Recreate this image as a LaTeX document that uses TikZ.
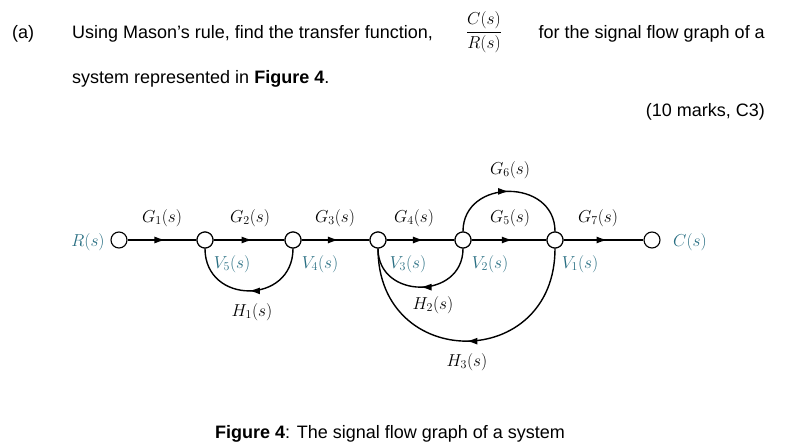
\documentclass[tikz,border=0pt]{standalone}
\usepackage{fontspec}
\newfontfamily\sansf{Liberation Sans}
\usetikzlibrary{decorations.markings,arrows.meta}
\definecolor{teal2}{RGB}{40,110,130}
\begin{document}
\begin{tikzpicture}[x=1pt,y=-1pt,
  nd/.style={circle,draw,line width=1.1pt,minimum size=16pt,inner sep=0pt,fill=white},
  br/.style={line width=1.4pt,postaction={decorate},decoration={markings,mark=at position 0.55 with {\arrow{Latex[length=11pt,width=7pt]}}}},
  lp/.style={line width=1.4pt,postaction={decorate},decoration={markings,mark=at position 0.5 with {\arrow{Latex[length=11pt,width=7pt]}}}},
  lb/.style={font=\fontsize{18}{21}\selectfont},
  vl/.style={lb,text=teal2},
  tx/.style={font=\sansf\fontsize{18}{21}\selectfont,anchor=base west,inner sep=0pt}]
\useasboundingbox (0,0) rectangle (806,447);
% text
\node[tx] (a) at (12,38) {(a)};
\node[tx] (t1) at (72,38) {Using Mason’s rule, find the transfer function,};
\node[lb,font=\fontsize{16}{19}\selectfont] (fr) at (484,32) {$\displaystyle\frac{C(s)}{R(s)}$};
\node[tx,anchor=base east] (t2) at (765,38) {for the signal flow graph of a};
\node[tx] (t3) at (72,83) {system represented in \textbf{Figure 4}.};
\node[tx,anchor=base east] (t4) at (765,116) {(10 marks, C3)};
\node[tx,anchor=base] (cap) at (390,438) {\textbf{Figure 4}: The signal flow graph of a system};
% nodes
\node[nd] (R) at (119,240) {};
\node[nd] (V5) at (205,240) {};
\node[nd] (V4) at (293,240) {};
\node[nd] (V3) at (378,240) {};
\node[nd] (V2) at (463,240) {};
\node[nd] (V1) at (555,240) {};
\node[nd] (C) at (652,240) {};
% branches
\draw[br] (R) -- (V5);
\draw[br] (V5) -- (V4);
\draw[br] (V4) -- (V3);
\draw[br] (V3) -- (V2);
\draw[br] (V2) -- (V1);
\draw[br] (V1) -- (C);
\draw[lp] (V4.south) .. controls (293,305) and (205,305) .. (V5.south);
\draw[lp] (V2.south) .. controls (463,300) and (378,300) .. (V3.south);
\draw[lp] (V1.south) .. controls (555,372) and (378,372) .. (V3.south);
\draw[lp] (V2.north) .. controls (463,178) and (555,178) .. (V1.north);
\node[nd] at (V5) {}; \node[nd] at (V4) {}; \node[nd] at (V3) {}; \node[nd] at (V2) {}; \node[nd] at (V1) {};
% labels
\node[lb] (g1) at (162,218) {$G_1(s)$};
\node[lb] (g2) at (250,218) {$G_2(s)$};
\node[lb] (g3) at (335,218) {$G_3(s)$};
\node[lb] (g4) at (414,218) {$G_4(s)$};
\node[lb] (g5) at (510,218) {$G_5(s)$};
\node[lb] (g7) at (598,218) {$G_7(s)$};
\node[lb] (g6) at (510,170) {$G_6(s)$};
\node[lb] (h1) at (252,312) {$H_1(s)$};
\node[lb] (h2) at (433,305) {$H_2(s)$};
\node[lb] (h3) at (467,362) {$H_3(s)$};
\node[vl] (l5) at (232,264) {$V_5(s)$};
\node[vl] (l4) at (320,264) {$V_4(s)$};
\node[vl] (l3) at (408,264) {$V_3(s)$};
\node[vl] (l2) at (490,264) {$V_2(s)$};
\node[vl] (l1) at (580,264) {$V_1(s)$};
\node[vl] (lr) at (88,242) {$R(s)$};
\node[vl] (lc) at (690,242) {$C(s)$};
\end{tikzpicture}
\end{document}
